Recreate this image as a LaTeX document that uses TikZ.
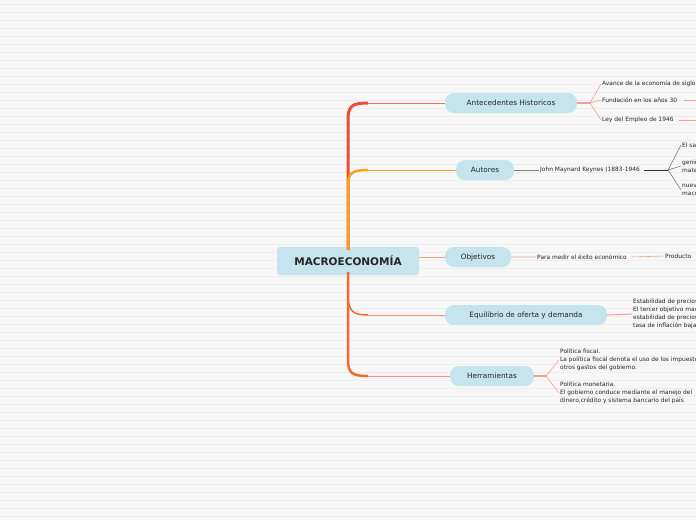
\documentclass[tikz,border=0pt]{standalone}
\usepackage{fontspec}
\setmainfont{DejaVu Sans}
\definecolor{bg}{HTML}{F7F7F7}
\definecolor{rule}{HTML}{EDEDED}
\definecolor{topic}{HTML}{C5E4EE}
\definecolor{cred}{HTML}{EE4B35}
\definecolor{corange}{HTML}{F7A11B}
\definecolor{cdeep}{HTML}{F26A2E}
\definecolor{csalmon}{HTML}{F4A08F}
\tikzset{
  central/.style={fill=topic,rounded corners=3pt,minimum width=142pt,minimum height=28pt,font=\fontsize{10.5}{12}\selectfont\bfseries,text=black!85},
  topicbox/.style={fill=topic,rounded corners=9pt,minimum height=20pt,font=\fontsize{7.3}{9}\selectfont,text=black!85},
  leaf/.style={anchor=west,align=left,inner sep=1pt,font=\fontsize{5.9}{8.2}\selectfont,text=black!85},
}
\begin{document}
\begin{tikzpicture}[x=1pt,y=-1pt]
\useasboundingbox (0,0) rectangle (696,520);
\clip (0,0) rectangle (696,520);
\fill[bg] (0,0) rectangle (696,520);
\foreach \y in {4,12,...,520} \draw[rule,line width=.6pt] (0,\y) -- (696,\y);
% central and topics
\node[central] (macro) at (348,261) {MACROECONOMÍA};
\node[topicbox,minimum width=132pt] (ante) at (511,103) {Antecedentes Historicos};
\node[topicbox,minimum width=58pt] (auto) at (485,170) {Autores};
\node[topicbox,minimum width=66pt] (obje) at (478,257) {Objetivos};
\node[topicbox,minimum width=162pt] (equi) at (526,315) {Equilibrio de oferta y demanda};
\node[topicbox,minimum width=84pt] (herr) at (492,376) {Herramientas};
% trunk
\draw[cred,line width=3pt] (348,250) -- (348,120) .. controls (348,106) and (352,103) .. (368,103);
\draw[corange,line width=2.5pt] (348,250) -- (348,186) .. controls (348,173) and (352,170) .. (368,170);
\draw[cdeep,line width=2.5pt] (348,272) -- (348,360) .. controls (348,373) and (352,376) .. (368,376);
\draw[cdeep,line width=1.5pt] (348,272) -- (348,300) .. controls (350,312) and (354,315) .. (368,315);
\draw[cred!80,line width=.6pt] (368,103) -- (ante.west);
\draw[corange,line width=.6pt] (368,170) -- (auto.west);
\draw[cdeep!70,line width=.6pt] (368,315) -- (equi.west);
\draw[cdeep!70,line width=.6pt] (368,376) -- (herr.west);
\draw[csalmon,line width=.6pt] (macro.east|-obje.west) -- (obje.west);
% Antecedentes
\coordinate (fa) at (590,103);
\node[leaf] (a1) at (601,84) {Avance de la economía de siglo};
\node[leaf] (a2) at (601,100) {Fundación en los años 30};
\node[leaf] (a3) at (601,120) {Ley del Empleo de 1946};
\draw[csalmon,line width=1.5pt] (ante.east) -- (fa);
\draw[csalmon,line width=.6pt] (fa) -- (a1.west) (fa) -- (a2.west) (fa) -- (a3.west);
\coordinate (e2) at (696,100); \coordinate (e3) at (696,120);
\draw[csalmon,line width=.6pt] ([xshift=6pt]a2.east) -- (e2) ([xshift=4pt]a3.east) -- (e3);
% Autores
\node[leaf] (k) at (539,170) {John Maynard Keynes (1883-1946};
\coordinate (fk) at (668,170);
\node[leaf] (k1) at (681,145) {El sabio};
\node[leaf] (k2) at (681,166) {genio\\matemático};
\node[leaf] (k3) at (681,190) {nueva\\macroeconomía};
\draw[gray,line width=.6pt] (auto.east) -- (k.west);
\draw[black!80,line width=1pt] ([xshift=3pt]k.east) -- (fk);
\draw[gray,line width=.6pt] (fk) -- (k1.west) (fk) -- (k2.west) (fk) -- (k3.west);
% Objetivos
\node[leaf] (o1) at (536,257) {Para medir el éxito económico};
\node[leaf] (o2) at (664,256) {Producto};
\draw[csalmon,line width=.6pt] (obje.east) -- (o1.west) ([xshift=4pt]o1.east) -- (o2.west);
% Equilibrio
\node[leaf] (q1) at (632,314) {Estabilidad de precios\\El tercer objetivo macro\\estabilidad de precios\\tasa de inflación baja};
\draw[csalmon,line width=1pt] (equi.east) -- (q1.west);
% Herramientas
\coordinate (fh) at (546,376);
\node[leaf] (h1) at (559,360) {Política fiscal.\\La política fiscal denota el uso de los impuestos y\\otros gastos del gobierno.};
\node[leaf] (h2) at (559,393) {Política monetaria.\\El gobierno conduce mediante el manejo del\\dinero,crédito y sistema bancario del país};
\draw[csalmon,line width=1.5pt] (herr.east) -- (fh);
\draw[csalmon,line width=.6pt] (fh) -- (h1.west) (fh) -- (h2.west);
\end{tikzpicture}
\end{document}
